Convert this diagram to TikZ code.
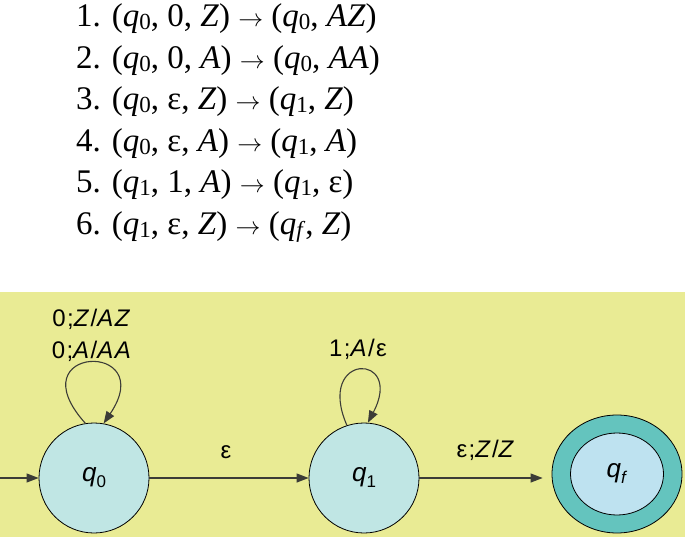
\documentclass[tikz,border=0pt]{standalone}
\usepackage{fontspec}
\setmainfont{Liberation Serif}
\newfontfamily\lsans[LetterSpace=6]{Liberation Sans}
\newfontfamily\lsansq{Liberation Sans}
\usetikzlibrary{arrows.meta,shapes.geometric}
\definecolor{bandyellow}{RGB}{233,235,148}
\definecolor{statefill}{RGB}{192,230,228}
\definecolor{finalouter}{RGB}{100,196,190}
\definecolor{finalinner}{RGB}{190,226,240}
\definecolor{edgegray}{RGB}{60,60,55}
\newcommand{\stq}[1]{{\itshape q}\raisebox{-6pt}{\fontsize{17}{17}\selectfont #1}}
\newcommand{\rlq}[1]{\textit{q}\raisebox{-3pt}{\fontsize{23}{23}\selectfont #1}}
\newcommand{\rar}{ $\rightarrow$ }
\tikzset{
  state/.style={circle, draw=black, line width=0.8pt, fill=statefill, minimum size=110pt, inner sep=0pt, font=\lsansq\fontsize{26}{28}\selectfont},
  trans/.style={draw=edgegray, line width=1.1pt, -{Triangle[length=12pt,width=9pt]}},
  lbl/.style={font=\lsans\fontsize{24}{26}\selectfont, inner sep=0pt},
  rulebox/.style={anchor=base west, inner sep=0pt, font=\fontsize{33}{40}\selectfont},
}
\begin{document}
\begin{tikzpicture}[x=1pt,y=-1pt]
\useasboundingbox (0,0) rectangle (685,537);
\fill[bandyellow] (0,292) rectangle (685,537);
% rules
\node[rulebox] (r1) at (76,27) {1. (\rlq{0}, 0, \textit{Z})\rar(\rlq{0}, \textit{AZ})};
\node[rulebox] (r2) at (76,68.5) {2. (\rlq{0}, 0, \textit{A})\rar(\rlq{0}, \textit{AA})};
\node[rulebox] (r3) at (76,110) {3. (\rlq{0}, ε, \textit{Z})\rar(\rlq{1}, \textit{Z})};
\node[rulebox] (r4) at (76,151.5) {4. (\rlq{0}, ε, \textit{A})\rar(\rlq{1}, \textit{A})};
\node[rulebox] (r5) at (76,193) {5. (\rlq{1}, 1, \textit{A})\rar(\rlq{1}, ε)};
\node[rulebox] (r6) at (76,234.5) {6. (\rlq{1}, ε, \textit{Z})\rar(\rlq{\textit{f}}, \textit{Z})};
% states
\node[state] (q0) at (94,478) {\stq{0}};
\node[state] (q1) at (364,478) {\stq{1}};
\node[ellipse, draw=black, line width=0.8pt, fill=finalouter, minimum width=130pt, minimum height=118pt, inner sep=0pt] (qf) at (617,474) {};
\node[ellipse, draw=black, line width=0.8pt, fill=finalinner, minimum width=93pt, minimum height=82pt, inner sep=0pt, font=\lsansq\fontsize{26}{28}\selectfont] (qfi) at (617,474) {\stq{\textit{f}}};
% edges
\coordinate (start) at (0,478);
\draw[trans] (start) -- (q0.west);
\draw[trans] (q0) -- (q1);
\draw[trans, shorten >=9pt] (q1.east) -- (qf.west |- q1.east);
\draw[trans] (q0.99) .. controls (15,345) and (160,340) .. (q0.80);
\draw[trans] (q1.108) .. controls (315,352) and (405,352) .. (q1.86);
% labels
\node[lbl] (l0a) at (92,319) {0;\textit{Z}/\textit{AZ}};
\node[lbl] (l0b) at (92,351) {0;\textit{A}/\textit{AA}};
\node[lbl] (l1) at (358,349) {1;\textit{A}/ε};
\node[lbl] (le) at (226,452) {ε};
\node[lbl] (lz) at (486,450) {ε;\textit{Z}/\textit{Z}};
\end{tikzpicture}
\end{document}
